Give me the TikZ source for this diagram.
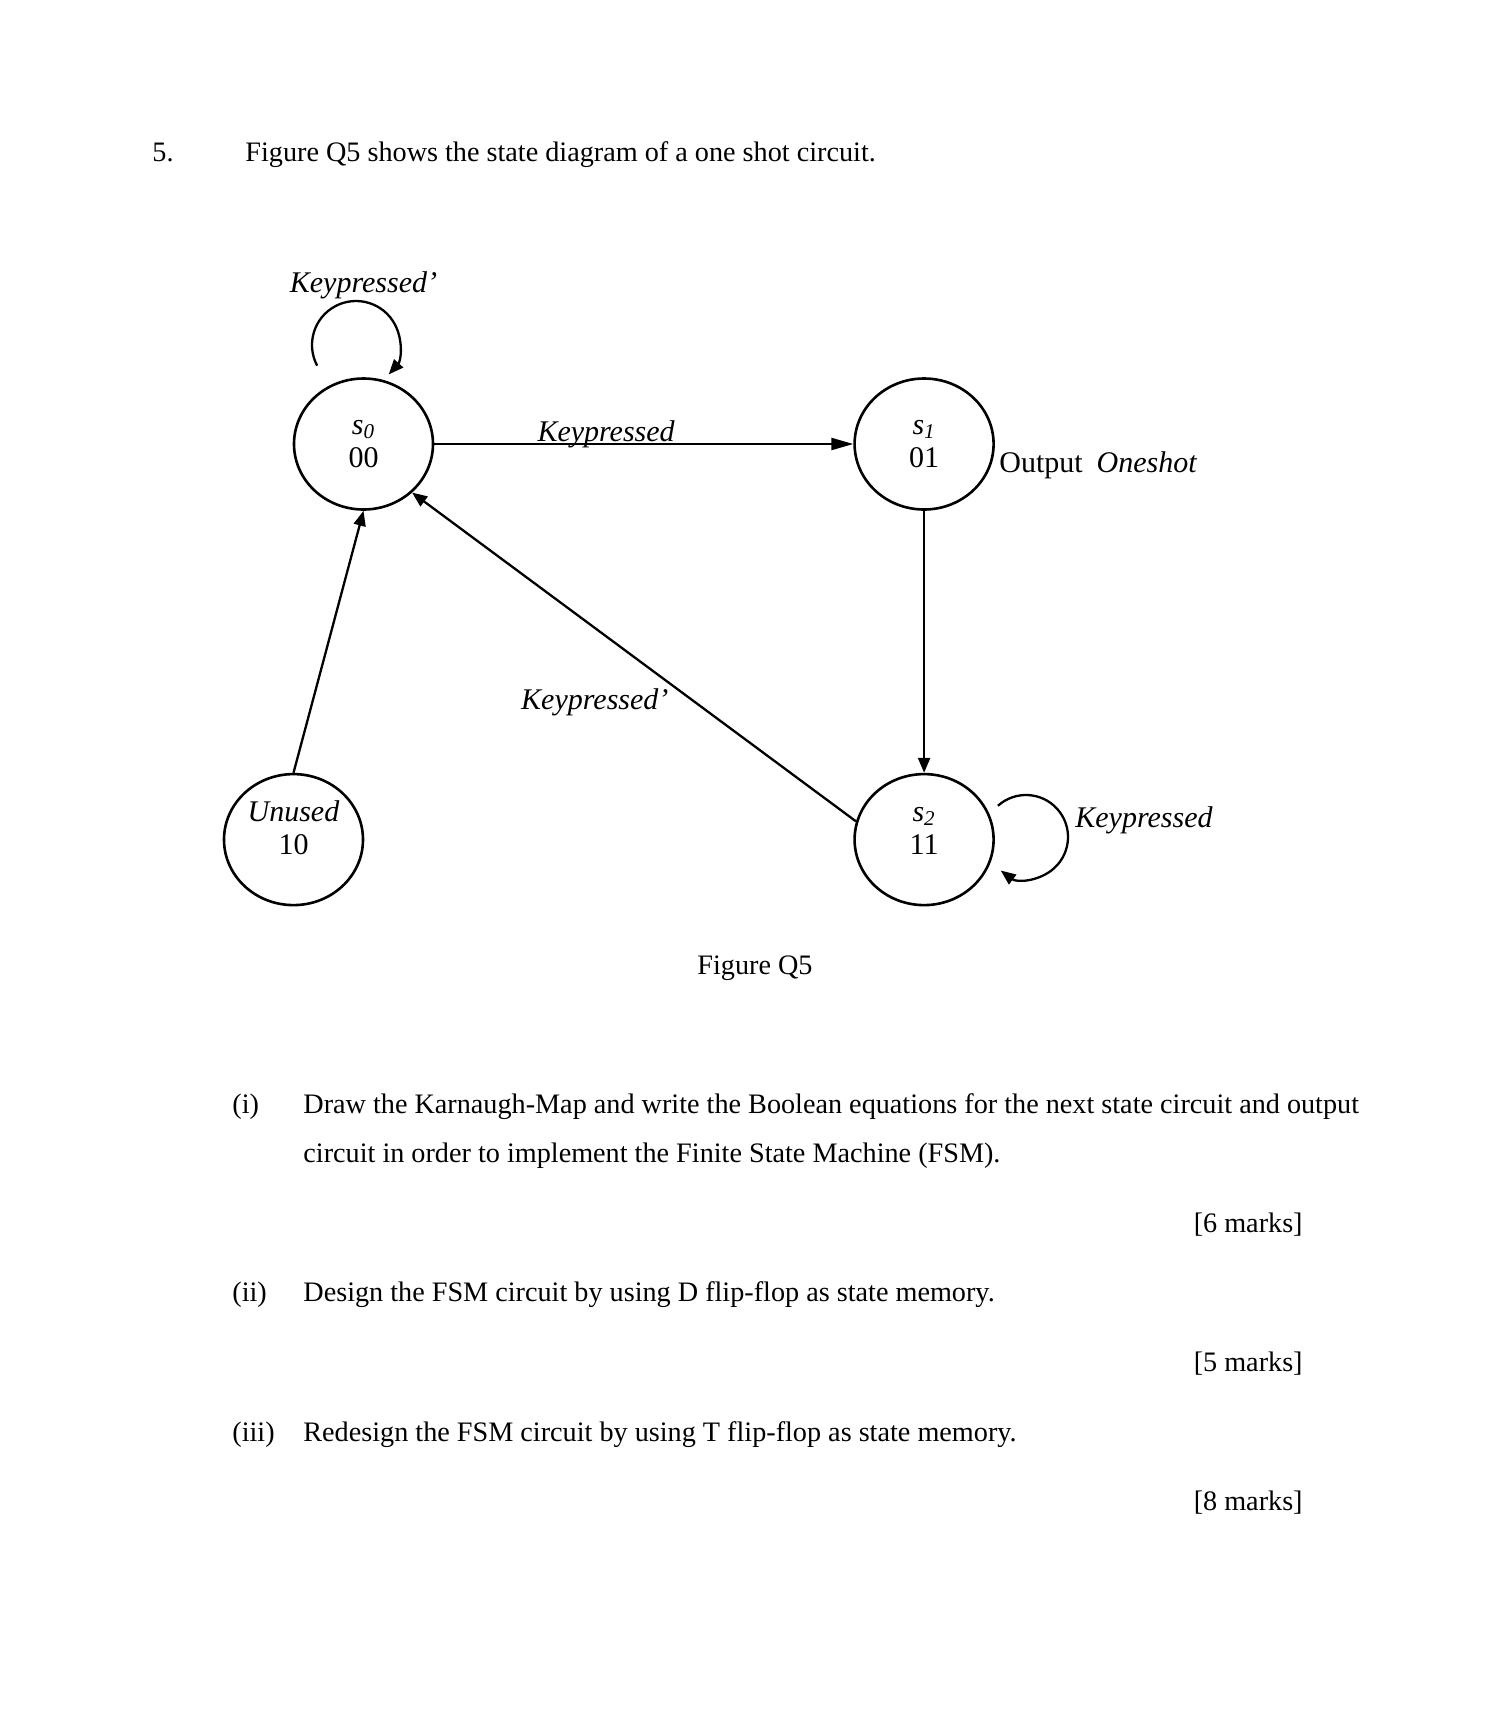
\documentclass[tikz,border=0pt]{standalone}
\usepackage{fontspec}
\setmainfont{Liberation Serif}
\usetikzlibrary{
  arrows.meta, % for the Triangle arrow tip
  shapes.geometric, % for the elliptic states
  positioning % for relative positioning of the states
}
\newcommand\qfont{\fontsize{14.1}{16.5}\selectfont} % question text
\newcommand\dfont{\fontsize{15}{16.5}\selectfont} % diagram text
\tikzset{
  state/.style={ % style for each state
    ellipse,draw,line width=1.3pt, % drawn as a thick ellipse
    inner sep=0pt, % no padding between the text and the shape
    minimum width=69.5pt, minimum height=65.5pt, % same size for every state
    align=center, % name above the code
    font=\dfont,
  },
  conn/.style={ % style for the transitions
    -{Triangle[length=7.5pt,width=6pt]}, % filled arrow tip
    line width=1.15pt,
  },
  lbl/.style={ % style for the transition labels
    font=\dfont\itshape, inner sep=0pt,
  },
  txt/.style={ % style for the question text
    inner sep=0pt, anchor=base west,
  },
  marks/.style={ % style for the marks on the right
    inner sep=0pt, anchor=base east,
  },
}

\begin{document}
\begin{tikzpicture}[x=0.5pt, y=-0.5pt, font=\qfont]
  \path[fill=white, use as bounding box] (0,0) rectangle (1494,1730);
  % question
  \node[txt] (n5) at (152,161) {5.};
  \node[txt] (title) at (245,161) {Figure Q5 shows the state diagram of a one shot circuit.};
  % states
  \node[state] (s0) at (363.5,444) {\textit{s}\textsubscript{\textit{0}}\\00};
  \node[state, right=209.5pt of s0] (s1) {\textit{s}\textsubscript{\textit{1}}\\01};
  \node[state, below=131pt of s1, text depth=9pt] (s2) {\textit{s}\textsubscript{\textit{2}}\\11};
  \node[state, left=244.5pt of s2, text depth=12pt] (unused) {\textit{Unused}\\10};
  \node[txt, font=\dfont] (out) at (999,472) {Output\hspace{7pt}\textit{Oneshot}};
  % transitions
  \coordinate (l0) at (356,345);
  \draw[conn] ([shift={(152:44)}]l0) arc[start angle=152, end angle=402, radius=44];
  \node[lbl, anchor=base] (k0) at (363.5,292) {Keypressed’};
  \draw[conn, -{Triangle[length=11pt,width=6pt]}] (s0) -- (s1)
    node[lbl, pos=0.41, anchor=base, yshift=1.5pt] (k1) {Keypressed};
  \draw[conn] (s1) -- (s2);
  \draw[conn] (s2.165) -- (s0.-45)
    node[lbl, pos=0.42, anchor=north east, yshift=-2pt] (k3) {Keypressed’};
  \draw[conn] (unused.north) -- (s0.south);
  \coordinate (l2) at (1026,837);
  \draw[conn] ([shift={(228:42)}]l2) arc[start angle=228, end angle=487, radius=42];
  \node[lbl, anchor=base west] (k2) at (1075,827) {Keypressed};
  \node[anchor=base, inner sep=0pt] (cap) at (755,974) {Figure Q5};
  % parts
  \node[txt] (qi) at (232,1113) {(i)};
  \node[txt] (ti) at (303,1113) {Draw the Karnaugh-Map and write the Boolean equations for the next state circuit and output};
  \node[txt] (ti2) at (303,1162) {circuit in order to implement the Finite State Machine (FSM).};
  \node[marks] (m6) at (1303,1232) {[6 marks]};
  \node[txt] (qii) at (232,1301) {(ii)};
  \node[txt] (tii) at (303,1301) {Design the FSM circuit by using D flip-flop as state memory.};
  \node[marks] (m5) at (1303,1371) {[5 marks]};
  \node[txt] (qiii) at (232,1441) {(iii)};
  \node[txt] (tiii) at (303,1441) {Redesign the FSM circuit by using T flip-flop as state memory.};
  \node[marks] (m8) at (1303,1510) {[8 marks]};
\end{tikzpicture}
\end{document}
